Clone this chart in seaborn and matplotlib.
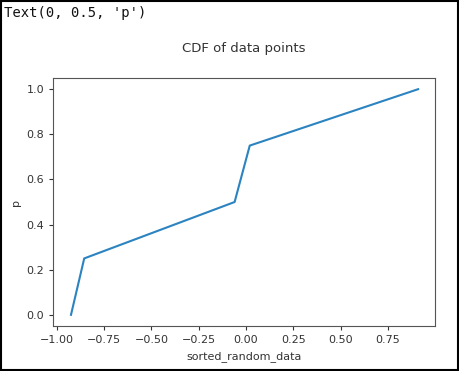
import matplotlib
matplotlib.use("Agg")
import matplotlib.pyplot as plt
import pandas as pd
import seaborn as sns
from matplotlib.patches import Rectangle

sorted_random_data = [-0.925, -0.855, -0.06, 0.02, 0.91]
p = [0.0, 0.25, 0.5, 0.75, 1.0]

df = pd.DataFrame({"sorted_random_data": sorted_random_data, "p": p})

fig = plt.figure(figsize=(4.59, 3.71), dpi=100)
ax = fig.add_axes([0.1155, 0.121, 0.8325, 0.669])

sns.lineplot(data=df, x="sorted_random_data", y="p", ax=ax, color="#2b83c0", linewidth=1.5)

ax.set_xlim(-1.02, 1.0)
ax.set_ylim(-0.05, 1.05)
ax.set_xticks([-1.0, -0.75, -0.5, -0.25, 0.0, 0.25, 0.5, 0.75])
ax.set_yticks([0.0, 0.2, 0.4, 0.6, 0.8, 1.0])
ax.tick_params(labelsize=8, length=3, color="#333333", labelcolor="#333333")
ax.set_xlabel("sorted_random_data", fontsize=8, color="#333333")
ax.set_ylabel("p", fontsize=8, color="#333333")
ax.set_title("CDF of data points", fontsize=9.5, color="#333333", pad=19)
for s in ax.spines.values():
    s.set_color("#555555")
    s.set_linewidth(0.8)

fig.text(0.008, 0.985, "Text(0, 0.5, 'p')", family="DejaVu Sans Mono",
         fontsize=10, va="top", ha="left", color="#111111")

fig.patches.append(Rectangle((0.002, 0.002), 0.996, 0.996, transform=fig.transFigure,
                             fill=False, edgecolor="black", linewidth=1.5))

fig.savefig("out.png", dpi=100)
